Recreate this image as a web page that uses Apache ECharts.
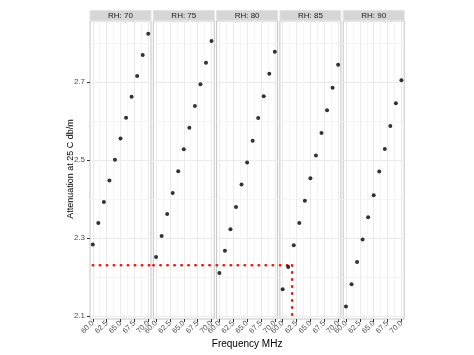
<!DOCTYPE html>
<html>
<head>
<meta charset="utf-8">
<script src="https://cdn.jsdelivr.net/npm/echarts@6/dist/echarts.min.js"></script>
<style>html,body{margin:0;padding:0;background:#fff;}#c{width:474px;height:355px;}</style>
</head>
<body>
<div id="c"></div>
<script>
// ---- data ----
const frequencies = [60, 61, 62, 63, 64, 65, 66, 67, 68, 69, 70];
const panelLabels = ['RH: 70', 'RH: 75', 'RH: 80', 'RH: 85', 'RH: 90'];
const rh70 = [2.283, 2.338, 2.392, 2.447, 2.500, 2.555, 2.608, 2.662, 2.715, 2.769, 2.823];
const rh75 = [2.251, 2.305, 2.361, 2.415, 2.471, 2.527, 2.582, 2.638, 2.694, 2.749, 2.805];
const rh80 = [2.210, 2.267, 2.322, 2.379, 2.437, 2.493, 2.549, 2.607, 2.663, 2.721, 2.777];
const rh85 = [2.168, 2.225, 2.281, 2.338, 2.395, 2.453, 2.511, 2.569, 2.627, 2.685, 2.744];
const rh90 = [2.124, 2.181, 2.238, 2.296, 2.353, 2.409, 2.470, 2.528, 2.587, 2.645, 2.704];
const xTicks = [60, 62.5, 65, 67.5, 70];
const xMinor = [61.25, 63.75, 66.25, 68.75];
const yTicks = [2.1, 2.3, 2.5, 2.7];
const yMinor = [2.2, 2.4, 2.6, 2.8];
// reference (red dotted) guide
const refAttenuation = 2.23;
const refStartFreq = 60;
const refEndFreq = 61.7;
const refEndPanel = 3;

const seriesValues = [rh70, rh75, rh80, rh85, rh90];

// ---- layout ----
const X_MIN = 59.5, X_MAX = 70.5, Y_MIN = 2.092, Y_MAX = 2.856;
const LEFT0 = 90, STEP = 63.3, PW = 61, TOP = 21, PH = 298;
const FONT = 'Liberation Sans, Arial, Helvetica, sans-serif';

const chart = echarts.init(document.getElementById('c'), null, {renderer: 'canvas'});

const grids = [], xAxes = [], yAxes = [], series = [], graphics = [];
for (let i = 0; i < 5; i++) {
  const left = LEFT0 + i * STEP;
  grids.push({left: left, top: TOP, width: PW, height: PH, show: true,
    backgroundColor: '#ffffff', borderColor: '#c4c4c4', borderWidth: 1});
  // major x
  xAxes.push({gridIndex: i, type: 'value', min: X_MIN, max: X_MAX,
    axisLine: {show: false},
    axisTick: {show: true, customValues: xTicks, length: 3, lineStyle: {color: '#333333'}},
    axisLabel: {show: true, customValues: xTicks, rotate: 45, margin: 3, fontSize: 7.5,
      fontFamily: FONT, color: '#4d4d4d', formatter: v => Number(v).toFixed(1)},
    splitLine: {show: true, lineStyle: {color: '#ebebeb', width: 1}}
  });
  // minor x
  xAxes.push({gridIndex: i, type: 'value', min: X_MIN, max: X_MAX,
    axisLine: {show: false},
    axisTick: {show: false, customValues: xMinor},
    axisLabel: {show: false, customValues: xMinor},
    splitLine: {show: true, lineStyle: {color: '#f5f5f5', width: 1}}
  });
  // major y
  yAxes.push({gridIndex: i, type: 'value', min: Y_MIN, max: Y_MAX,
    axisLine: {show: false},
    axisTick: {show: i === 0, customValues: yTicks, length: 3, lineStyle: {color: '#333333'}},
    axisLabel: {show: i === 0, customValues: yTicks, margin: 5, fontSize: 8,
      fontFamily: FONT, color: '#4d4d4d', formatter: v => Number(v).toFixed(1)},
    splitLine: {show: true, lineStyle: {color: '#ebebeb', width: 1}}
  });
  // minor y
  yAxes.push({gridIndex: i, type: 'value', min: Y_MIN, max: Y_MAX,
    axisLine: {show: false},
    axisTick: {show: false, customValues: yMinor},
    axisLabel: {show: false, customValues: yMinor},
    splitLine: {show: true, lineStyle: {color: '#f5f5f5', width: 1}}
  });
  series.push({type: 'scatter', xAxisIndex: 2 * i, yAxisIndex: 2 * i,
    symbol: 'circle', symbolSize: 4, itemStyle: {color: '#000000'},
    data: frequencies.map((f, k) => [f, seriesValues[i][k]]), z: 5});
  // strip
  graphics.push({type: 'rect', shape: {x: left, y: 10.5, width: PW, height: 10},
    style: {fill: '#d6d6d6', stroke: '#e3e3e3', lineWidth: 1}});
  graphics.push({type: 'text', x: left + PW / 2, y: 15.8,
    style: {text: panelLabels[i], fill: '#1a1a1a', font: '8px ' + FONT, align: 'center', verticalAlign: 'middle'}});
}

// red dotted guide
const redStyle = {color: '#e0201b', width: 2.5, type: [0.5, 6.5], cap: 'round'};
for (let i = 0; i <= refEndPanel; i++) {
  const x0 = i === 0 ? refStartFreq : X_MIN;
  const x1 = i === refEndPanel ? refEndFreq : X_MAX;
  series.push({type: 'line', xAxisIndex: 2 * i, yAxisIndex: 2 * i, symbol: 'none',
    lineStyle: redStyle, data: [[x0, refAttenuation], [x1, refAttenuation]], z: 4, silent: true});
}
series.push({type: 'line', xAxisIndex: 2 * refEndPanel, yAxisIndex: 2 * refEndPanel, symbol: 'none',
  lineStyle: redStyle, data: [[refEndFreq, refAttenuation], [refEndFreq, yTicks[0]]], z: 4, silent: true});

// axis titles
graphics.push({type: 'text', x: LEFT0 + (4 * STEP + PW) / 2, y: 344,
  style: {text: 'Frequency MHz', fill: '#000000', font: '10px ' + FONT, align: 'center', verticalAlign: 'middle'}});
graphics.push({type: 'text', x: 70.5, y: TOP + PH / 2 - 1, rotation: Math.PI / 2,
  style: {text: 'Attenuation at 25 C db/m', fill: '#000000', font: '9px ' + FONT, align: 'center', verticalAlign: 'middle'}});

chart.setOption({
  animation: false,
  backgroundColor: '#ffffff',
  grid: grids, xAxis: xAxes, yAxis: yAxes, series: series, graphic: graphics
});
</script>
</body>
</html>
